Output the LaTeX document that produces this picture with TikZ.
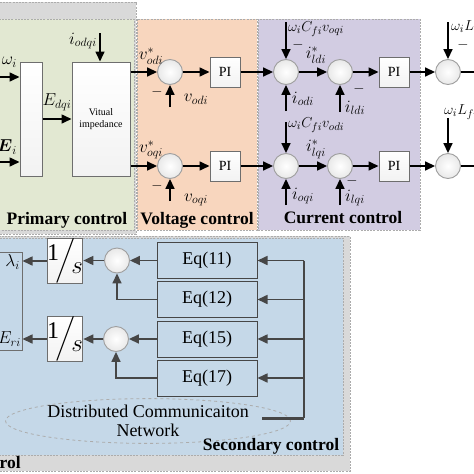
\documentclass[tikz,border=0pt]{standalone}
\usepackage{amsmath}
\usepackage{fontspec}
\setmainfont{Liberation Serif}
\usetikzlibrary{arrows.meta,shapes.geometric}
\definecolor{gbg}{RGB}{226,232,210}
\definecolor{obg}{RGB}{248,214,190}
\definecolor{pbg}{RGB}{210,204,226}
\definecolor{bbg}{RGB}{197,216,232}
\definecolor{grbg}{RGB}{217,217,217}
\definecolor{darkg}{RGB}{70,70,70}
\definecolor{edge}{RGB}{110,110,110}
\tikzset{
  region/.style={draw=gray!65, dash pattern=on 2pt off 1.2pt, line width=0.9pt},
  blk/.style={draw=edge, line width=1pt, top color=white, bottom color=gray!10, inner sep=0pt},
  sumc/.style={circle, draw=gray!75, line width=0.9pt, inner color=white, outer color=gray!18, minimum size=25pt, inner sep=0pt},
  arr/.style={-{Triangle[length=10pt,width=9pt]}, line width=1.6pt},
  garr/.style={arr, draw=darkg, color=darkg},
  lab/.style={font=\fontsize{18}{20}\selectfont, inner sep=0pt},
  sml/.style={font=\fontsize{15}{17}\selectfont, inner sep=0pt},
  ttl/.style={font=\fontsize{17.5}{19}\selectfont\bfseries, inner sep=0pt},
  eqb/.style={draw=darkg, line width=1pt, fill=bbg, minimum width=100pt, minimum height=36pt, inner sep=0pt, font=\fontsize{18}{20}\selectfont},
  pib/.style={blk, minimum width=30pt, minimum height=30pt, font=\fontsize{14}{16}\selectfont},
  intb/.style={blk, minimum width=32pt, minimum height=39pt}
}
\begin{document}
\begin{tikzpicture}[x=1pt,y=-1pt]
\useasboundingbox (0,0) rectangle (474,474);
\clip (0,0) rectangle (474,474);
% backgrounds
\fill[white] (0,0) rectangle (474,474);
\draw[region, fill=grbg] (-5,2) rectangle (136,234);
\draw[region, fill=grbg] (-5,236) rectangle (350,471);
\draw[region, fill=gbg] (-5,19) rectangle (134,230);
\draw[region, fill=obg] (137,19) rectangle (257,230);
\draw[region, fill=pbg] (258,19) rectangle (420,230);
\draw[region, fill=bbg] (-5,238) rectangle (343,455);

% ---------- primary control ----------
\node[blk, minimum width=22pt, minimum height=114pt] (B1) at (31,119) {};
\node[blk, minimum width=58pt, minimum height=114pt, align=center, font=\fontsize{10}{12}\selectfont] (VI) at (101,119) {Vitual\\impedance};
\coordinate (in1) at (-5,77);
\coordinate (in2) at (-5,162);
\draw[arr] (in1) -- (in1 -| B1.west);
\draw[arr] (in2) -- (in2 -| B1.west);
\node[lab, anchor=east] (lw) at (17,62) {$\omega_i$};
\node[lab, anchor=east] (le) at (17,147) {$\boldsymbol{E}_i$};
\draw[arr] (B1.east) -- (VI.west);
\node[lab] (edq) at (57,102) {$E_{dqi}$};
\coordinate (iod) at (100,33);
\draw[arr] (iod) -- (iod |- VI.north);
\node[lab, anchor=east] (iodl) at (97,41) {$i_{odqi}$};
\node[ttl] (tp) at (67,220) {Primary control};

% ---------- voltage control ----------
\node[sumc] (V1) at (170,72) {};
\node[sumc] (V2) at (170,166) {};
\draw[arr] (VI.east |- V1) -- (V1.west);
\draw[arr] (VI.east |- V2) -- (V2.west);
\node[lab] (v1s) at (151,56) {$v^*_{odi}$};
\node[lab] (v2s) at (151,150) {$v^*_{oqi}$};
\coordinate (fv1) at (170,107);
\coordinate (fv2) at (170,201);
\draw[arr] (fv1) -- (V1.south);
\draw[arr] (fv2) -- (V2.south);
\node[sml] (m1) at (157,92) {$-$};
\node[sml] (m2) at (157,186) {$-$};
\node[lab] (v1f) at (196,99) {$v_{odi}$};
\node[lab] (v2f) at (196,200) {$v_{oqi}$};
\node[pib] (P1) at (225,72) {PI};
\node[pib] (P2) at (225,166) {PI};
\draw[arr] (V1.east) -- (P1.west);
\draw[arr] (V2.east) -- (P2.west);
\node[ttl] (tv) at (197,220) {Voltage control};

% ---------- current control ----------
\node[sumc] (C1) at (286,72) {};
\node[sumc] (C2) at (340,72) {};
\node[pib] (P3) at (394,72) {PI};
\node[sumc] (C3) at (448,72) {};
\node[sumc] (C4) at (286,166) {};
\node[sumc] (C5) at (340,166) {};
\node[pib] (P4) at (394,166) {PI};
\node[sumc] (C6) at (448,166) {};
\draw[arr] (P1.east) -- (C1.west);
\draw[arr] (P2.east) -- (C4.west);
\draw[arr] (C1.east) -- (C2.west);
\draw[arr] (C4.east) -- (C5.west);
\draw[arr] (C2.east) -- (P3.west);
\draw[arr] (C5.east) -- (P4.west);
\draw[arr] (P3.east) -- (C3.west);
\draw[arr] (P4.east) -- (C6.west);
\coordinate (o1) at (480,72);
\coordinate (o2) at (480,166);
\draw[line width=1.6pt] (C3.east) -- (o1);
\draw[line width=1.6pt] (C6.east) -- (o2);
% feedforward
\coordinate (ff1) at (286,22);
\coordinate (ff2) at (286,122);
\coordinate (ff3) at (448,22);
\coordinate (ff4) at (448,118);
\draw[arr] (ff1) -- (C1.north);
\draw[arr] (ff2) -- (C4.north);
\draw[arr] (ff3) -- (C3.north);
\draw[arr] (ff4) -- (C6.north);
\node[sml, anchor=west] (f1l) at (288,29) {$\omega_i C_{fi} v_{oqi}$};
\node[sml, anchor=west] (f2l) at (288,125) {$\omega_i C_{fi} v_{odi}$};
\node[sml, anchor=west] (f3l) at (451,28) {$\omega_i L_{fi}$};
\node[sml, anchor=west] (f4l) at (444,112) {$\omega_i L_{fi}$};
\node[sml] (m3) at (298,45) {$-$};
\node[sml] (m4) at (463,45) {$-$};
\node[lab] (ild1) at (316,55) {$i^*_{ldi}$};
\node[lab] (ilq1) at (316,149) {$i^*_{lqi}$};
\coordinate (fi1) at (286,111);
\coordinate (fi2) at (286,205);
\coordinate (fi3) at (340,112);
\coordinate (fi4) at (340,205);
\draw[arr] (fi1) -- (C1.south);
\draw[arr] (fi2) -- (C4.south);
\draw[arr] (fi3) -- (C2.south);
\draw[arr] (fi4) -- (C5.south);
\node[lab] (iodl2) at (303,99) {$i_{odi}$};
\node[lab] (ioql) at (303,196) {$i_{oqi}$};
\node[lab] (ildl) at (355,108) {$i_{ldi}$};
\node[lab] (ilql) at (355,198) {$i_{lqi}$};
\node[sml] (m5) at (359,89) {$-$};
\node[sml] (m6) at (352,181) {$-$};
\node[ttl] (tc) at (343,218) {Current control};

% ---------- secondary control ----------
\node[eqb] (E11) at (207,260.5) {Eq(11)};
\node[eqb] (E12) at (207,299.5) {Eq(12)};
\node[eqb] (E15) at (207,339) {Eq(15)};
\node[eqb] (E17) at (207,378) {Eq(17)};
\coordinate (bt) at (304,260.5);
\coordinate (bb) at (304,418);
\draw[line width=1.6pt, darkg] (bt) -- (bb);
\draw[garr] (bt) -- (E11.east);
\draw[garr] (bt |- E12.east) -- (E12.east);
\draw[garr] (bt |- E15.east) -- (E15.east);
\draw[garr] (bt |- E17.east) -- (E17.east);
\node[ellipse, draw=gray!65, dashed, line width=0.8pt, minimum width=236pt, minimum height=44pt, inner sep=0pt, align=center, font=\fontsize{18}{19}\selectfont] (net) at (148,421) {Distributed Communicaiton\\Network};
\coordinate (ne) at (262,418);
\draw[line width=3pt, darkg] (ne) -- (bb);
\node[sumc] (S1) at (117,260.5) {};
\node[sumc] (S2) at (116,339) {};
\draw[garr] (E11.west) -- (S1.east);
\draw[garr] (E15.west) -- (S2.east);
\draw[garr] (E12.west) -| (S1.south);
\draw[garr] (E17.west) -| (S2.south);
\node[intb] (I1) at (65,261) {\fontsize{24}{24}\selectfont\raisebox{6pt}{1}\kern-4pt\raisebox{-1pt}{$\Big/$}\kern-4pt\raisebox{-7pt}{$s$}};
\node[intb] (I2) at (65,339) {\fontsize{24}{24}\selectfont\raisebox{6pt}{1}\kern-4pt\raisebox{-1pt}{$\Big/$}\kern-4pt\raisebox{-7pt}{$s$}};
\draw[garr] (S1.west) -- (S1.west -| I1.east);
\draw[garr] (S2.west) -- (S2.west -| I2.east);
\node[draw=edge, line width=1pt, fill=bbg, minimum width=34pt, minimum height=98pt] (LB) at (5,301) {};
\draw[garr] (I1.west) -- (I1.west -| LB.east);
\draw[garr] (I2.west) -- (I2.west -| LB.east);
\node[lab, anchor=east] (lam) at (20,262) {$\lambda_i$};
\node[lab, anchor=east] (eri) at (21,339) {$E_{ri}$};
\node[ttl] (ts) at (271,446) {Secondary control};
\node[ttl, anchor=east] (tt) at (21,463) {control};
\end{tikzpicture}
\end{document}
